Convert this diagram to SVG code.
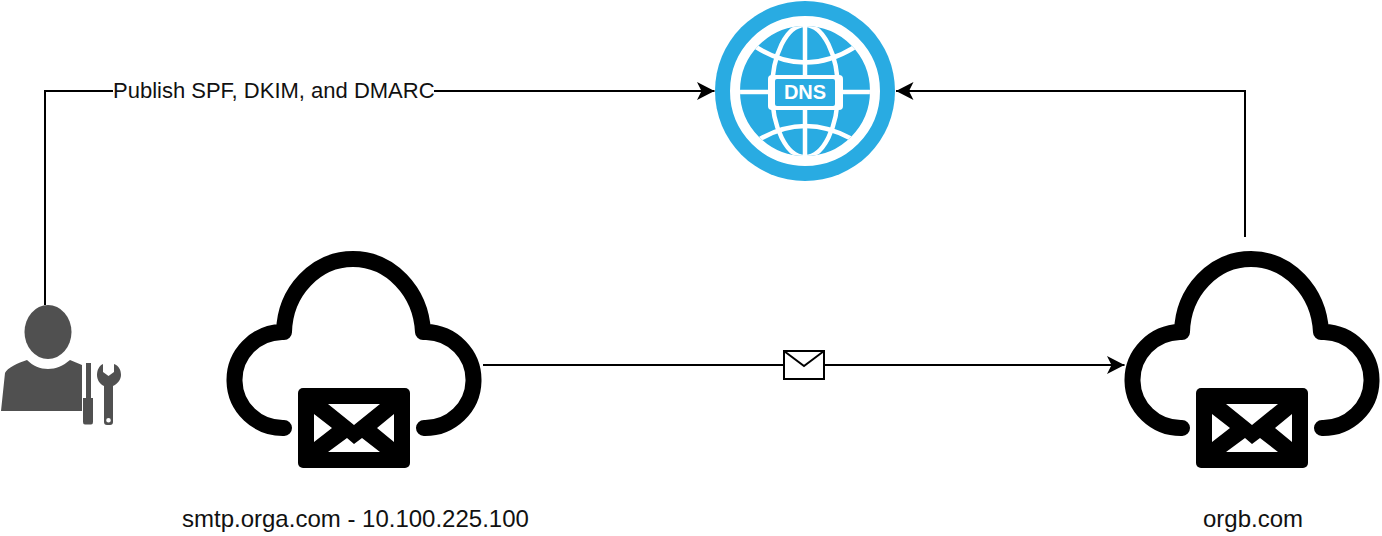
<svg xmlns="http://www.w3.org/2000/svg" xmlns:xlink="http://www.w3.org/1999/xlink" width="1382" height="536" viewBox="0 0 1382 536">
<style>
.lbl{font-family:"Liberation Sans",Arial,sans-serif;font-size:24px;fill:#111}
.conn{fill:none;stroke:#000;stroke-width:2}
.cl{fill:none;stroke:#000;stroke-width:16;stroke-linecap:round;stroke-linejoin:round}
.gl{fill:none;stroke:#fff;stroke-width:4.5}
</style>
<defs>
<marker id="arr" markerUnits="userSpaceOnUse" markerWidth="18" markerHeight="18" viewBox="0 0 18 18" refX="17.500" refY="9" orient="auto"><path d="M0 0L17.500 9L0 18L4.500 9Z" fill="#000"/></marker>
<clipPath id="globe"><circle cx="805" cy="91" r="65"/></clipPath>
<g id="mailcloud">
<path class="cl" d="M284 428A48.500 48 0 0 1 282 332H284C285 291 316 259 353 259C390 259 421 291 423 332H426A48.500 48 0 0 1 424 428"/>
<rect x="298" y="388" width="112" height="80" rx="5" fill="#000"/>
<path fill="#fff" d="M328 404H380L354 425ZM314 414V442L332 428ZM394 414V442L377 428ZM328 452H380L362 438L354 444L347 438Z"/>
</g>
</defs>
<g id="connectors">
<path class="conn" d="M45 305V91H714.500" marker-end="url(#arr)"/>
<path class="conn" d="M1245 237V91H896" marker-end="url(#arr)"/>
<path class="conn" d="M483 365H1124.500" marker-end="url(#arr)"/>
<rect x="113" y="80" width="321" height="22" fill="#fff"/>
<text class="lbl" x="113" y="98" style="font-size:22px">Publish SPF, DKIM, and DMARC</text>
<g id="message">
<rect x="784" y="351" width="40" height="28" fill="#fff" stroke="#000" stroke-width="2"/>
<path d="M784 351L804 366L824 351" fill="none" stroke="#000" stroke-width="2"/>
</g>
</g>
<g id="dns">
<circle cx="805" cy="91" r="90" fill="#29abe2"/>
<circle cx="805" cy="91" r="70" fill="none" stroke="#fff" stroke-width="10"/>
<g clip-path="url(#globe)">
<path class="gl" d="M740 92H870M805 26V156"/>
<ellipse class="gl" cx="805" cy="91" rx="33" ry="66"/>
<path class="gl" d="M756 47Q805 78 855 47M760 139Q805 113 852 139"/>
</g>
<rect x="768" y="75" width="75" height="35" rx="4" fill="#fff"/>
<rect x="775" y="79" width="60" height="27" rx="2" fill="#29abe2"/>
<text x="805" y="98.500" text-anchor="middle" font-family="'Liberation Sans',Arial,sans-serif" font-weight="700" font-size="20" fill="#fff">DNS</text>
</g>
<g id="admin" fill="#505050">
<ellipse cx="48" cy="332" rx="23.500" ry="27"/>
<path d="M1 411L5 373C7 368 18 363 27 360C33 366 40 369 48 369C56 369 63 366 70 360L82 365V411Z"/>
<path d="M86 363H91V398H93V422Q93 424.500 91 424.500H85Q83 424.500 83 422V398H86Z"/>
<path fill-rule="evenodd" d="M103 364V372L108.500 376L114 372V364C119 366 121 370 121 375C121 380 117 384 113 386V422Q113 425 110 425H107Q104 425 104 422V386C100 384 97 380 97 375C97 370 99 366 103 364ZM108.500 418A2.300 2.300 0 1 0 108.501 422.600A2.300 2.300 0 1 0 108.500 418Z"/>
</g>
<g id="smtp-orga"><use href="#mailcloud"/></g>
<g id="orgb"><use href="#mailcloud" x="898"/></g>
<text class="lbl" x="182" y="527">smtp.orga.com - 10.100.225.100</text>
<text class="lbl" x="1203" y="527">orgb.com</text>
</svg>
